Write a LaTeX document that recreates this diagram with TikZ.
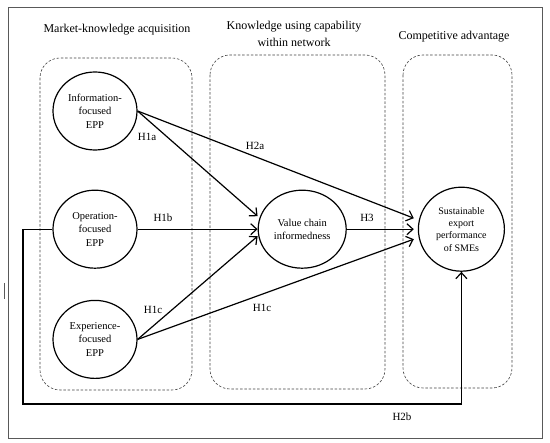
\documentclass[tikz,border=0pt]{standalone}
\usepackage{fontspec}
\setmainfont{Liberation Serif}
\usetikzlibrary{positioning,arrows.meta,shapes.geometric}

\begin{document}
\begin{tikzpicture}[
         x=1pt, y=-1pt,
         construct/.style = {draw, line width=1.2pt, ellipse, inner sep=0pt,
         align=center, minimum width=84pt, minimum height=78pt,
         font=\fontsize{10.5}{13.5}\selectfont},
         groupbox/.style = {draw=black!75, dash pattern=on 2.5pt off 1.8pt,
         rounded corners=20pt, line width=0.6pt},
         heading/.style = {align=center, font=\fontsize{12}{16.5}\selectfont},
         hlink/.style = {line width=1.2pt,
         -{Straight Barb[length=6pt,width=11pt]}},
         hyp/.style = {font=\fontsize{11}{13}\selectfont}
]
      \useasboundingbox (0,0) rectangle (550,443);
      \draw[black!65, line width=0.8pt] (8,7) rectangle (542,438);
      \draw[black!65, line width=0.8pt] (4,283) -- (4,299);

      % dashed groups
      \draw[groupbox] (40,58)  rectangle (192,390);
      \draw[groupbox] (210,55) rectangle (385,389);
      \draw[groupbox] (403,55) rectangle (512,388);

      \node[heading] (t1) at (117,30) {Market-knowledge acquisition};
      \node[heading] (t2) at (294,34) {Knowledge using capability\\within network};
      \node[heading] (t3) at (454,37) {Competitive advantage};

      % constructs
      \node[construct]                        (info) at (95,111) {Information-\\focused\\EPP};
      \node[construct, below=39pt of info]    (op)   {Operation-\\focused\\EPP};
      \node[construct, below=31pt of op]      (exp)  {Experience-\\focused\\EPP};
      \node[construct, minimum width=88pt, right=120pt of op] (vci)
            {Value chain\\informedness};
      \node[construct, minimum width=86pt, minimum height=84pt,
            font=\fontsize{10}{12.3}\selectfont, right=71pt of vci] (sep)
            {Sustainable\\export\\performance\\of SMEs};

      % arrow ends at the outcome
      \coordinate (sepa) at ([xshift=-4pt,yshift=11pt]sep.west);
      \coordinate (sepb) at ([xshift=-4pt]sep.west);
      \coordinate (sepc) at ([xshift=-4pt,yshift=-10pt]sep.west);
      \coordinate (loop) at (23,404);

      \draw[hlink] (info.east) -- ([yshift=13pt]vci.west);
      \draw[hlink] (info.east) -- (sepa);
      \draw[hlink] (op) -- (vci);
      \draw[hlink] (exp.east) -- ([yshift=-7pt]vci.west);
      \draw[hlink] (exp.east) -- (sepc);
      \draw[hlink] (vci) -- (sepb);
      \draw[hlink] (op.west) -| (loop) -| (sep.south);

      % hypotheses
      \node[hyp] (h1a)  at (147,137) {H1a};
      \node[hyp] (h2a)  at (255,146) {H2a};
      \node[hyp] (h1b)  at (163,218) {H1b};
      \node[hyp] (h1c)  at (153,310) {H1c};
      \node[hyp] (h1cb) at (262,308) {H1c};
      \node[hyp] (h3)   at (367,218) {H3};
      \node[hyp] (h2b)  at (402,417) {H2b};
\end{tikzpicture}
\end{document}
